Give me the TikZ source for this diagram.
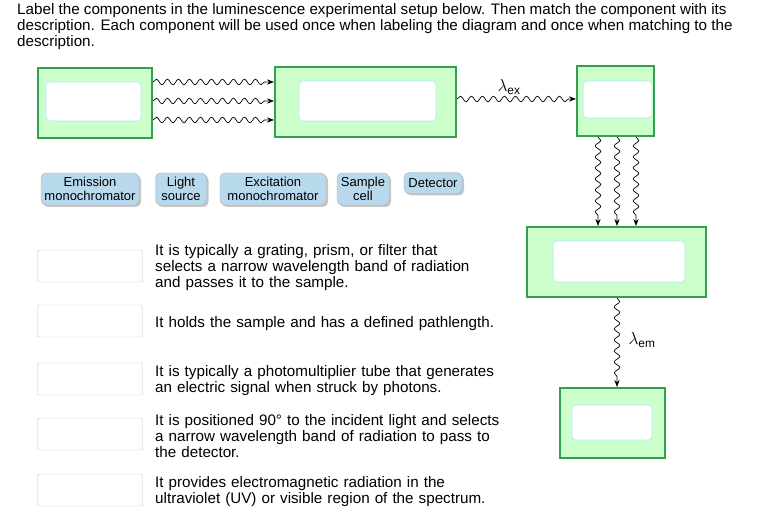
\documentclass[tikz,border=0pt]{standalone}
\usepackage{fontspec}
\setmainfont{Liberation Sans}
\usetikzlibrary{arrows.meta,positioning,decorations.pathmorphing,shadows}
\definecolor{unitgreen}{RGB}{51,160,80}
\definecolor{unitfill}{RGB}{204,255,204}
\definecolor{chipblue}{RGB}{184,216,236}

\begin{document}
\begin{tikzpicture}[
    x=1pt, y=-1pt,
    every node/.style={font=\fontsize{15.2}{16}\selectfont},
    unitbox/.style={draw=unitgreen, line width=2pt, fill=unitfill},
    slotbox/.style={draw=cyan!30, rounded corners=4pt, fill=white, line width=0.6pt},
    chip/.style={draw=gray!60, rounded corners=5pt, fill=chipblue, align=center, inner sep=0.5pt,
      font=\fontsize{13}{13.5}\selectfont,
      drop shadow={shadow xshift=2pt, shadow yshift=-2pt, fill=gray!45, opacity=1}},
    answer/.style={draw=cyan!50!gray!50, rounded corners=2pt, fill=white, minimum width=105pt, minimum height=32pt},
    desc/.style={anchor=north west, align=left, text width=400pt, inner sep=0pt},
    wave/.style={-{Stealth[length=7pt]}, decorate, decoration={snake, segment length=11pt, amplitude=2.8pt, post length=7pt}, line width=0.7pt}
]
\useasboundingbox (0,0) rectangle (764,518);

% question text
\node[anchor=north west, align=left, inner sep=0pt] (intro) at (17,3)
  {Label the components in the luminescence experimental setup below. Then match the component with its\\description. Each component will be used once when labeling the diagram and once when matching to the\\description.};

% instrument blocks
\draw[unitbox] (38,68) rectangle (152,138);
\draw[slotbox] (46,82) rectangle (141,121);
\draw[unitbox] (275,67) rectangle (456,137);
\draw[slotbox] (299,81) rectangle (436,121);
\draw[unitbox] (577,66) rectangle (654,136);
\draw[slotbox] (583,81) rectangle (652,118);
\draw[unitbox] (527,227) rectangle (706,297);
\draw[slotbox] (553,241) rectangle (685,282);
\draw[unitbox] (560,388) rectangle (665,458);
\draw[slotbox] (572,405) rectangle (652,440);

% radiation
\foreach \y in {82,101,120}
  \draw[wave] (153,\y) -- (274,\y);
\draw[wave] (457,99) -- (576,99);
\node[font=\fontsize{17}{17}\selectfont] (lex) at (509,87) {$\lambda_{\mathrm{ex}}$};
\foreach \x in {598,617,636}
  \draw[wave] (\x,137) -- (\x,226);
\draw[wave] (617,298) -- (617,387);
\node[font=\fontsize{17}{17}\selectfont] (lem) at (642,340) {$\lambda_{\mathrm{em}}$};

% label chips
\node[chip, minimum width=98pt, minimum height=32pt] (emis) at (90,189) {Emission\\monochromator};
\node[chip, minimum width=51pt, minimum height=32pt] (light) at (181,189) {Light\\source};
\node[chip, minimum width=106pt, minimum height=32pt] (exci) at (273,189) {Excitation\\monochromator};
\node[chip, minimum width=52pt, minimum height=32pt] (cell) at (363,189) {Sample\\cell};
\node[chip, minimum width=58pt, minimum height=21pt] (det) at (433,183) {Detector};

% matching rows
\foreach \y in {266,321,379,434,490}
  \node[answer] at (90,\y) {};
\node[desc] (d1) at (155,244) {It is typically a grating, prism, or filter that\\selects a narrow wavelength band of radiation\\and passes it to the sample.};
\node[desc] (d2) at (155,316) {It holds the sample and has a defined pathlength.};
\node[desc] (d3) at (155,365) {It is typically a photomultiplier tube that generates\\an electric signal when struck by photons.};
\node[desc] (d4) at (155,414) {It is positioned 90\textdegree\ to the incident light and selects\\a narrow wavelength band of radiation to pass to\\the detector.};
\node[desc] (d5) at (155,476) {It provides electromagnetic radiation in the\\ultraviolet (UV) or visible region of the spectrum.};
\end{tikzpicture}
\end{document}
